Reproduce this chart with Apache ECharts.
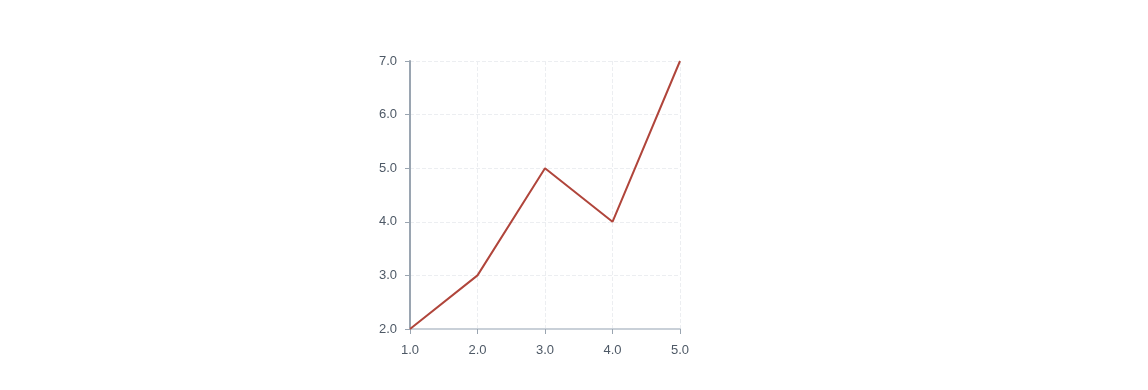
<!DOCTYPE html>
<html>
<head>
<meta charset="utf-8">
<script src="https://cdn.jsdelivr.net/npm/echarts@6/dist/echarts.min.js"></script>
<style>html,body{margin:0;padding:0;background:#fff}#c{width:1148px;height:390px}</style>
</head>
<body>
<div id="c"></div>
<script>
const xValues = [1, 2, 3, 4, 5];
const yValues = [2, 3, 5, 4, 7];
const chart = echarts.init(document.getElementById('c'));
const font = 'Helvetica, Arial, "Liberation Sans", sans-serif';
chart.setOption({
  animation: false,
  textStyle: { fontFamily: font },
  grid: { left: 410, right: 468, top: 61, bottom: 61 },
  xAxis: {
    type: 'value', min: 1, max: 5, interval: 1,
    axisLine: { show: true, lineStyle: { color: '#c9d0d8', width: 2 } },
    axisTick: { show: true, length: 5, lineStyle: { color: '#9aa5b1' } },
    axisLabel: { color: '#4e5966', fontSize: 13, margin: 15, fontFamily: font, formatter: v => v.toFixed(1) },
    splitLine: { show: true, lineStyle: { type: 'dashed', color: '#eceef1' } }
  },
  yAxis: {
    type: 'value', min: 2, max: 7, interval: 1,
    axisLine: { show: true, lineStyle: { color: '#9aa5b1', width: 2 } },
    axisTick: { show: true, length: 5, lineStyle: { color: '#9aa5b1' } },
    axisLabel: { color: '#4e5966', fontSize: 13, margin: 13, fontFamily: font, formatter: v => v.toFixed(1) },
    splitLine: { show: true, lineStyle: { type: 'dashed', color: '#eceef1' } }
  },
  series: [{
    type: 'line',
    data: xValues.map((x, i) => [x, yValues[i]]),
    showSymbol: false,
    lineStyle: { color: '#b0453b', width: 2 },
    itemStyle: { color: '#b0453b' }
  }]
});
</script>
</body>
</html>
